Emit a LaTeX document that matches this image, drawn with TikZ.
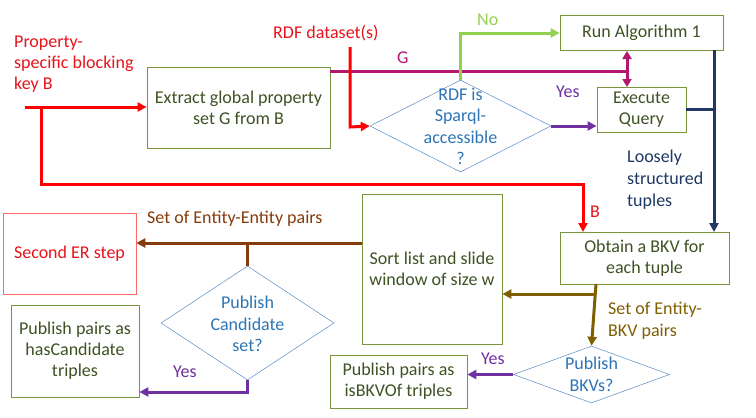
\documentclass[tikz,border=0pt]{standalone}
\usepackage{fontspec}
\setmainfont{Carlito}
\usetikzlibrary{arrows.meta,shapes.geometric}
\definecolor{boxgreen}{HTML}{77933C}
\definecolor{txtgreen}{HTML}{3F5224}
\definecolor{myred}{HTML}{FF0000}
\definecolor{txtred}{HTML}{E8141C}
\definecolor{mymag}{HTML}{B3176F}
\definecolor{nogreen}{HTML}{92D050}
\definecolor{mypurple}{HTML}{7030A0}
\definecolor{mynavy}{HTML}{1F3864}
\definecolor{myolive}{HTML}{7F6000}
\definecolor{mybrown}{HTML}{843C0C}
\definecolor{diablue}{HTML}{5B8BC6}
\definecolor{txtblue}{HTML}{2E75B6}
\tikzset{
  procbox/.style={draw=boxgreen, line width=0.8pt, fill=white, text=txtgreen, align=center, inner sep=0pt},
  decbox/.style={draw=diablue, line width=0.5pt, diamond, inner sep=0pt},
  dectxt/.style={text=txtblue, align=center, inner sep=0pt, font=\fontsize{18}{21.5}\selectfont},
  conn/.style={line width=3pt, -{Triangle[length=9pt,width=9pt]}},
  lbl/.style={inner sep=0pt, align=left, anchor=west},
  txt/.style={font=\fontsize{18}{21}\selectfont}
}
\begin{document}
\begin{tikzpicture}[x=1pt,y=-1pt, every node/.style={txt}]
\useasboundingbox (0,0) rectangle (756,418);
\fill[white] (0,0) rectangle (756,418);

% boxes
\node[procbox, minimum width=183pt, minimum height=81pt] (extract) at (238.5,107.5) {Extract global property\\set G from B};
\node[procbox, minimum width=163pt, minimum height=35pt] (run) at (641.5,32.5) {Run Algorithm 1};
\node[procbox, minimum width=89pt, minimum height=45pt] (exec) at (641.5,109.5) {Execute\\Query};
\node[procbox, minimum width=169pt, minimum height=52pt] (obtain) at (644.5,258) {Obtain a BKV for\\each tuple};
\node[procbox, minimum width=140pt, minimum height=150pt] (sort) at (432,269) {Sort list and slide\\window of size w};
\node[procbox, minimum width=137pt, minimum height=53pt] (bkvof) at (398.5,381.5) {Publish pairs as\\isBKVOf triples};
\node[procbox, minimum width=128pt, minimum height=92pt] (hascand) at (75,351) {Publish pairs as\\hasCandidate\\triples};
\node[draw=red!60, line width=0.6pt, fill=white, text=txtred, minimum width=133pt, minimum height=81pt, inner sep=0pt] (second) at (69.5,253.5) {Second ER step};

% diamonds
\node[decbox, minimum width=181pt, minimum height=92pt] (rdf) at (460.5,126) {};
\node[dectxt] (rdftxt) at (460.5,126.5) {RDF is\\Sparql-\\accessible\\?};
\node[decbox, minimum width=156pt, minimum height=57pt] (pbkv) at (591.5,374.5) {};
\node[dectxt] (pbkvtxt) at (591.5,374.5) {Publish\\BKVs?};
\node[decbox, minimum width=173pt, minimum height=114pt] (pcand) at (247.5,323) {};
\node[dectxt] (pcandtxt) at (247.5,324) {Publish\\Candidate\\set?};

% free texts
\node[lbl, text=txtred, font=\fontsize{18}{21}\selectfont] (pkey) at (14,64) {Property-\\specific blocking\\key B};
\node[lbl, text=txtred] (rdfds) at (273,33) {RDF dataset(s)};
\node[lbl, text=mynavy, font=\fontsize{18}{22}\selectfont] (loose) at (627,180) {Loosely\\structured\\tuples};
\node[lbl, text=myolive, font=\fontsize{18}{22}\selectfont] (ebkv) at (608,321) {Set of Entity-\\BKV pairs};
\node[lbl, text=mybrown] (eepairs) at (147,219) {Set of Entity-Entity pairs};

% coordinates
\coordinate (pkstart) at (25,107);
\coordinate (pkbr) at (41,107);
\coordinate (rdftop) at (350,47);

% G line (magenta)
\draw[mymag, line width=3pt] (extract.north east |- 0,71) -- (627,71);
\draw[mymag, line width=3pt, {Triangle[length=8pt,width=9pt]}-{Triangle[length=8pt,width=9pt]}] (627,51) -- (627,87);
\node[lbl, text=mymag] (glbl) at (397,58) {G};

% red lines
\draw[myred, conn] (pkstart) -- (extract.west |- pkstart);
\draw[myred, conn] (pkbr) -- (41,184) -- (583,184) -- (583,232);
\node[lbl, text=txtred] (blbl) at (590,212) {B};
\draw[myred, conn] (rdftop) -- (350,127) -- (rdf.west);

% No (green)
\draw[nogreen, conn] (rdf.north) -- (460.5,33) -- (run.west |- 0,33);
\node[lbl, text=nogreen] (nolbl) at (477,20) {No};

% Yes to Execute
\draw[mypurple, conn] (rdf.east) -- (exec.west |- rdf.east);
\node[lbl, text=mypurple] (yes1) at (556,92) {Yes};

% navy
\draw[mynavy, line width=3pt] (714,50) -- (714,109);
\draw[mynavy, line width=3pt] (exec.east |- 0,109) -- (714,109);
\draw[mynavy, conn] (714,100) -- (714,232);

% olive from obtain
\draw[myolive, conn] (596,284) -- (pbkv.north);
\draw[myolive, conn] (596,294) -- (sort.east |- 0,294);

% Yes to bkvof
\draw[mypurple, conn] (pbkv.west) -- (bkvof.east |- pbkv.west);
\node[lbl, text=mypurple] (yes2) at (481,359) {Yes};

% brown
\draw[mybrown, conn] (sort.west |- 0,243) -- (second.east |- 0,243);
\draw[mybrown, line width=3pt] (247.5,243) -- (pcand.north);

% Yes candidate
\draw[mypurple, conn] (pcand.south) -- (247.5,392) -- (hascand.east |- 0,392);
\node[lbl, text=mypurple] (yes3) at (173,372) {Yes};
\end{tikzpicture}
\end{document}
